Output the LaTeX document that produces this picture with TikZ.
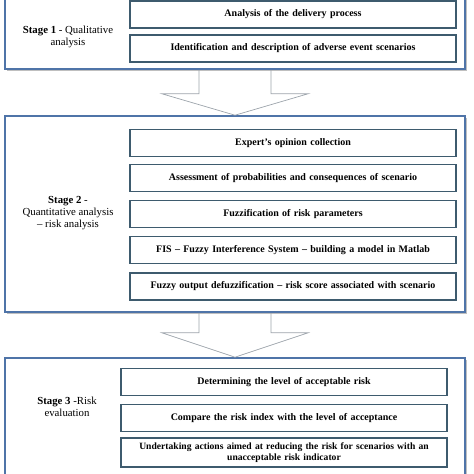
\documentclass[tikz,border=0pt]{standalone}
\usepackage{fontspec}
\setmainfont{Liberation Serif}
\usetikzlibrary{shadows,calc}

\definecolor{stageblue}{HTML}{4F74A8}
\definecolor{stepslate}{HTML}{3E5B6E}
\definecolor{arrowgrey}{HTML}{9CA3AB}

\tikzset{
  stagebox/.style={draw=stageblue, line width=1.6pt, fill=white,
    drop shadow={shadow xshift=1.5pt, shadow yshift=-1.5pt, fill=black!50, opacity=0.5},
    minimum width=460pt, inner sep=0pt},
  stepbox/.style={draw=stepslate, line width=1.5pt, fill=white,
    minimum width=326pt, minimum height=27pt, text width=322pt, align=center,
    inner sep=0pt, font=\fontsize{10}{11}\selectfont\bfseries},
  stagelabel/.style={align=center, font=\fontsize{10.8}{12}\selectfont},
  blockarrow/.style={draw=arrowgrey, line width=0.7pt}
}

\begin{document}
\begin{tikzpicture}[x=1pt, y=-1pt]
  \useasboundingbox (0, 0) rectangle (474, 474);

  % stage 1
  \begin{scope}
    \node[stagebox, minimum height=75pt] (stage1) at (235, 31.5) {};
    \node[stagelabel] (label1) at (68, 37) {\textbf{Stage 1} - Qualitative\\analysis};
    \node[stepbox] (delivery) at (293, 14.5) {Analysis of the delivery process};
    \node[stepbox] (scenarios) at (293, 48.5) {Identification and description of adverse event scenarios};
  \end{scope}

  % stage 2
  \begin{scope}
    \node[stagebox, minimum height=196pt] (stage2) at (235, 214) {};
    \node[stagelabel] (label2) at (68, 213) {\textbf{Stage 2} -\\Quantitative analysis\\– risk analysis};
    \node[stepbox] (opinion) at (293, 143) {Expert’s opinion collection};
    \node[stepbox] (assessment) at (293, 178) {Assessment of probabilities and consequences of scenario};
    \node[stepbox] (fuzzification) at (293, 214) {Fuzzification of risk parameters};
    \node[stepbox] (fis) at (293, 250) {FIS – Fuzzy Interference System – building a model in Matlab};
    \node[stepbox] (defuzzification) at (293, 286.5) {Fuzzy output defuzzification – risk score associated with scenario};
  \end{scope}

  % stage 3
  \begin{scope}
    \node[stagebox, minimum height=126pt] (stage3) at (235, 421) {};
    \node[stagelabel] (label3) at (67, 407) {\textbf{Stage 3} -Risk\\evaluation};
    \node[stepbox] (acceptable) at (284, 382) {Determining the level of acceptable risk};
    \node[stepbox] (compare) at (284, 418) {Compare the risk index with the level of acceptance};
    \node[stepbox, minimum height=29pt, font=\fontsize{9.6}{11}\selectfont\bfseries] (actions) at (284, 452.5)
      {Undertaking actions aimed at reducing the risk for scenarios with an\\unacceptable risk indicator};
  \end{scope}

  % arrows between stages
  \draw[blockarrow]
    ($(stage1.south)+(-36, 0)$) -- ++(0, 24) -- ++(-37, 0) -- (stage2.north)
    -- ($(stage1.south)+(73, 24)$) -- ++(-37, 0) -- ($(stage1.south)+(36, 0)$);

  \draw[blockarrow]
    ($(stage2.south)+(-36, 0)$) -- ++(0, 20) -- ++(-37, 0) -- (stage3.north)
    -- ($(stage2.south)+(73, 20)$) -- ++(-37, 0) -- ($(stage2.south)+(36, 0)$);
\end{tikzpicture}
\end{document}
